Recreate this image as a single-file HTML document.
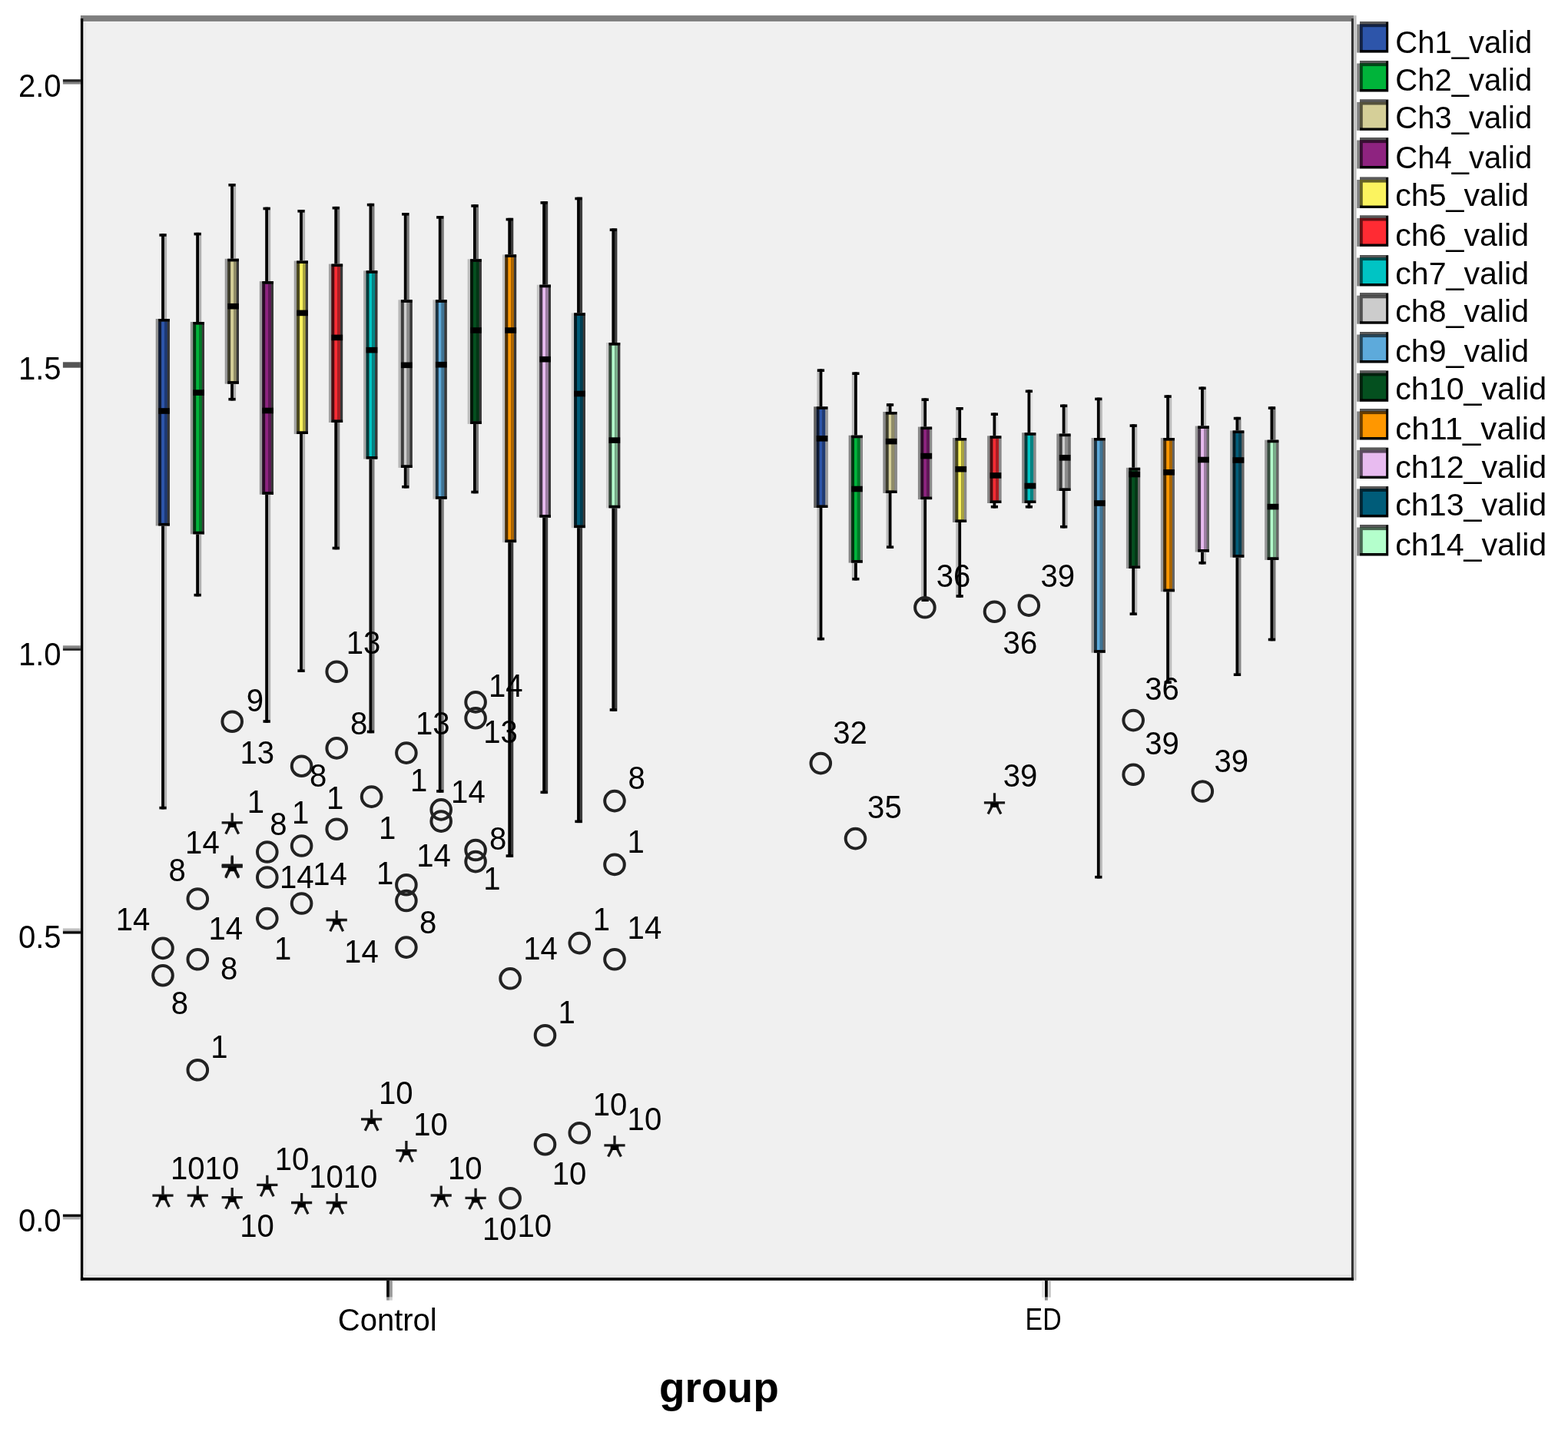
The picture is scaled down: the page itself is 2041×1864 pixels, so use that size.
<!DOCTYPE html>
<html><head><meta charset="utf-8"><title>group boxplot</title>
<style>
html,body{margin:0;padding:0;background:#fff;}
svg{display:block;}
.t{font-family:"Liberation Sans", Arial, sans-serif;font-size:40px;fill:#000;}
.n{font-family:"Liberation Sans", Arial, sans-serif;font-size:42px;fill:#000;}
.g{font-family:"Liberation Sans", Arial, sans-serif;font-size:55px;font-weight:bold;fill:#000;}
</style></head><body>
<svg width="2041" height="1864" viewBox="0 0 2041 1864">
<rect x="0" y="0" width="2041" height="1864" fill="#ffffff"/>
<rect x="108.3" y="27.9" width="1650.6000000000001" height="1635.1" fill="#f0f0f0"/>
<rect x="110.3" y="27.9" width="1.6" height="1635.1" fill="#e6e6e6"/>
<rect x="108.3" y="27.9" width="1650.6000000000001" height="1.1" fill="#f5f5f5"/>
<rect x="104.9" y="20.1" width="1657.1" height="7.8" fill="#7e7e7e"/>
<rect x="104.9" y="24" width="3.4" height="1642.8" fill="#000"/>
<rect x="1758.9" y="24" width="3.1" height="1642.8" fill="#333"/>
<rect x="1762.2" y="20.1" width="3.4" height="1646.5" fill="#c0c0c0"/>
<rect x="108.3" y="1659.4" width="1650.6000000000001" height="2.4" fill="#e2e2e2"/>
<rect x="104.9" y="1663" width="1657.1" height="3.8" fill="#000"/>
<rect x="81.9" y="103.3" width="23" height="3.5" fill="#222"/>
<rect x="81.9" y="106.8" width="23" height="2.8" fill="#808080"/>
<rect x="81.9" y="471.3" width="23" height="7.4" fill="#555"/>
<rect x="81.9" y="840.3" width="23" height="2.9" fill="#888"/>
<rect x="81.9" y="843.2" width="23" height="1.0" fill="#555"/>
<rect x="81.9" y="844.2" width="23" height="2.6" fill="#1a1a1a"/>
<rect x="81.9" y="1208.4" width="23" height="3.2" fill="#c0c0c0"/>
<rect x="81.9" y="1211.6" width="23" height="0.6" fill="#555"/>
<rect x="81.9" y="1212.2" width="23" height="3.3" fill="#000"/>
<rect x="81.9" y="1580.6" width="23" height="3.3" fill="#000"/>
<rect x="81.9" y="1583.9" width="23" height="0.6" fill="#555"/>
<rect x="81.9" y="1584.5" width="23" height="2.9" fill="#b0b0b0"/>
<text x="23.9" y="125.5" class="n" textLength="55.76" lengthAdjust="spacingAndGlyphs">2.0</text>
<text x="23.9" y="493.8" class="n" textLength="55.76" lengthAdjust="spacingAndGlyphs">1.5</text>
<text x="23.9" y="865.8" class="n" textLength="55.76" lengthAdjust="spacingAndGlyphs">1.0</text>
<text x="23.9" y="1234.2" class="n" textLength="55.76" lengthAdjust="spacingAndGlyphs">0.5</text>
<text x="23.9" y="1602.6" class="n" textLength="55.76" lengthAdjust="spacingAndGlyphs">0.0</text>
<rect x="503.1" y="1666.8" width="3.8" height="21.9" fill="#0a0a0a"/>
<rect x="503.1" y="1688.7" width="3.8" height="3.9" fill="#959595"/>
<rect x="506.9" y="1666.8" width="3.9" height="21.9" fill="#9a9a9a"/>
<rect x="506.9" y="1688.7" width="3.9" height="3.9" fill="#d0d0d0"/>
<rect x="1356.2" y="1666.8" width="2.7" height="21.9" fill="#e0e0e0"/>
<rect x="1360.0" y="1666.8" width="3.8" height="21.9" fill="#000"/>
<rect x="1360.0" y="1688.7" width="3.8" height="3.9" fill="#8a8a8a"/>
<rect x="1364.6" y="1666.8" width="3.3" height="21.9" fill="#c8c8c8"/>
<text x="439.8" y="1731.8" class="t">Control</text>
<text x="1334.6" y="1730.7" class="t" textLength="47" lengthAdjust="spacingAndGlyphs">ED</text>
<text x="858.0" y="1824.5" class="g">group</text>
<rect x="213.8" y="304.2" width="3.3" height="110.8" fill="#b0b0b0"/>
<rect x="213.8" y="684.4" width="3.3" height="369.0" fill="#b0b0b0"/>
<rect x="210.1" y="304.2" width="3.8" height="110.8" fill="#000"/>
<rect x="210.1" y="684.4" width="3.8" height="369.0" fill="#000"/>
<rect x="207.4" y="304.2" width="9.2" height="3.6" fill="#000"/>
<rect x="207.4" y="1049.8" width="9.2" height="3.6" fill="#000"/>
<rect x="202.7" y="415.0" width="3.5" height="269.4" fill="#909090"/>
<rect x="206.2" y="415.0" width="14.7" height="269.4" fill="#383838"/>
<rect x="217.5" y="415.0" width="3.4" height="269.4" fill="#383838"/>
<rect x="206.2" y="418.5" width="3.9" height="262.4" fill="#0d1933"/>
<rect x="210.1" y="418.5" width="3.9" height="262.4" fill="#2d55aa"/>
<rect x="214.0" y="418.5" width="3.7" height="262.4" fill="#1e3973"/>
<rect x="206.2" y="415.0" width="14.7" height="3.5" fill="#000"/>
<rect x="206.2" y="680.9" width="14.7" height="3.5" fill="#000"/>
<rect x="206.2" y="531.2" width="14.7" height="7.6" fill="#000"/>
<rect x="258.9" y="302.8" width="3.3" height="116.2" fill="#b0b0b0"/>
<rect x="258.9" y="695.3" width="3.3" height="81.1" fill="#b0b0b0"/>
<rect x="255.2" y="302.8" width="3.8" height="116.2" fill="#000"/>
<rect x="255.2" y="695.3" width="3.8" height="81.1" fill="#000"/>
<rect x="252.5" y="302.8" width="9.2" height="3.6" fill="#000"/>
<rect x="252.5" y="772.8" width="9.2" height="3.6" fill="#000"/>
<rect x="247.8" y="419.0" width="3.5" height="276.3" fill="#949494"/>
<rect x="251.3" y="419.0" width="14.7" height="276.3" fill="#383838"/>
<rect x="262.6" y="419.0" width="3.4" height="276.3" fill="#383838"/>
<rect x="251.3" y="422.5" width="3.9" height="269.3" fill="#003611"/>
<rect x="255.2" y="422.5" width="3.9" height="269.3" fill="#00b43a"/>
<rect x="259.1" y="422.5" width="3.7" height="269.3" fill="#007a27"/>
<rect x="251.3" y="419.0" width="14.7" height="3.5" fill="#000"/>
<rect x="251.3" y="691.8" width="14.7" height="3.5" fill="#000"/>
<rect x="251.3" y="507.3" width="14.7" height="7.6" fill="#000"/>
<rect x="303.8" y="239.0" width="3.3" height="97.8" fill="#b0b0b0"/>
<rect x="303.8" y="499.7" width="3.3" height="21.8" fill="#b0b0b0"/>
<rect x="300.1" y="239.0" width="3.8" height="97.8" fill="#000"/>
<rect x="300.1" y="499.7" width="3.8" height="21.8" fill="#000"/>
<rect x="297.4" y="239.0" width="9.2" height="3.6" fill="#000"/>
<rect x="297.4" y="517.9" width="9.2" height="3.6" fill="#000"/>
<rect x="292.7" y="336.8" width="3.5" height="162.9" fill="#989898"/>
<rect x="296.2" y="336.8" width="14.7" height="162.9" fill="#383838"/>
<rect x="307.5" y="336.8" width="3.4" height="162.9" fill="#383838"/>
<rect x="296.2" y="340.3" width="3.9" height="155.9" fill="#3f3e2d"/>
<rect x="300.1" y="340.3" width="3.9" height="155.9" fill="#d5cf98"/>
<rect x="304.0" y="340.3" width="3.7" height="155.9" fill="#908c67"/>
<rect x="296.2" y="336.8" width="14.7" height="3.5" fill="#000"/>
<rect x="296.2" y="496.2" width="14.7" height="3.5" fill="#000"/>
<rect x="296.2" y="394.9" width="14.7" height="7.6" fill="#000"/>
<rect x="348.9" y="269.7" width="3.3" height="96.4" fill="#b0b0b0"/>
<rect x="348.9" y="643.7" width="3.3" height="297.1" fill="#b0b0b0"/>
<rect x="345.2" y="269.7" width="3.8" height="96.4" fill="#000"/>
<rect x="345.2" y="643.7" width="3.8" height="297.1" fill="#000"/>
<rect x="342.5" y="269.7" width="9.2" height="3.6" fill="#000"/>
<rect x="342.5" y="937.2" width="9.2" height="3.6" fill="#000"/>
<rect x="337.8" y="366.1" width="3.5" height="277.6" fill="#9c9c9c"/>
<rect x="341.3" y="366.1" width="14.7" height="277.6" fill="#383838"/>
<rect x="352.6" y="366.1" width="3.4" height="277.6" fill="#383838"/>
<rect x="341.3" y="369.6" width="3.9" height="270.6" fill="#2a0a26"/>
<rect x="345.2" y="369.6" width="3.9" height="270.6" fill="#8e2380"/>
<rect x="349.1" y="369.6" width="3.7" height="270.6" fill="#601757"/>
<rect x="341.3" y="366.1" width="14.7" height="3.5" fill="#000"/>
<rect x="341.3" y="640.2" width="14.7" height="3.5" fill="#000"/>
<rect x="341.3" y="530.7" width="14.7" height="7.6" fill="#000"/>
<rect x="393.8" y="273.0" width="3.3" height="66.5" fill="#b0b0b0"/>
<rect x="393.8" y="565.0" width="3.3" height="310.0" fill="#b0b0b0"/>
<rect x="390.1" y="273.0" width="3.8" height="66.5" fill="#000"/>
<rect x="390.1" y="565.0" width="3.8" height="310.0" fill="#000"/>
<rect x="387.4" y="273.0" width="9.2" height="3.6" fill="#000"/>
<rect x="387.4" y="871.4" width="9.2" height="3.6" fill="#000"/>
<rect x="382.7" y="339.5" width="3.5" height="225.5" fill="#a0a0a0"/>
<rect x="386.2" y="339.5" width="14.7" height="225.5" fill="#383838"/>
<rect x="397.5" y="339.5" width="3.4" height="225.5" fill="#383838"/>
<rect x="386.2" y="343.0" width="3.9" height="218.5" fill="#4b481c"/>
<rect x="390.1" y="343.0" width="3.9" height="218.5" fill="#fbf35f"/>
<rect x="394.0" y="343.0" width="3.7" height="218.5" fill="#aaa540"/>
<rect x="386.2" y="339.5" width="14.7" height="3.5" fill="#000"/>
<rect x="386.2" y="561.5" width="14.7" height="3.5" fill="#000"/>
<rect x="386.2" y="403.6" width="14.7" height="7.6" fill="#000"/>
<rect x="439.0" y="268.9" width="3.3" height="74.7" fill="#7a7a7a"/>
<rect x="439.0" y="550.0" width="3.3" height="165.3" fill="#7a7a7a"/>
<rect x="435.3" y="268.9" width="3.8" height="74.7" fill="#000"/>
<rect x="435.3" y="550.0" width="3.8" height="165.3" fill="#000"/>
<rect x="432.6" y="268.9" width="9.2" height="3.6" fill="#000"/>
<rect x="432.6" y="711.7" width="9.2" height="3.6" fill="#000"/>
<rect x="427.9" y="343.6" width="3.5" height="206.4" fill="#a4a4a4"/>
<rect x="431.4" y="343.6" width="14.7" height="206.4" fill="#383838"/>
<rect x="442.7" y="343.6" width="3.4" height="206.4" fill="#383838"/>
<rect x="431.4" y="347.1" width="3.9" height="199.4" fill="#4c0c0f"/>
<rect x="435.3" y="347.1" width="3.9" height="199.4" fill="#ff2b33"/>
<rect x="439.2" y="347.1" width="3.7" height="199.4" fill="#ad1d22"/>
<rect x="431.4" y="343.6" width="14.7" height="3.5" fill="#000"/>
<rect x="431.4" y="546.5" width="14.7" height="3.5" fill="#000"/>
<rect x="431.4" y="435.6" width="14.7" height="7.6" fill="#000"/>
<rect x="484.2" y="264.8" width="3.3" height="87.5" fill="#7a7a7a"/>
<rect x="484.2" y="597.5" width="3.3" height="356.8" fill="#7a7a7a"/>
<rect x="480.5" y="264.8" width="3.8" height="87.5" fill="#000"/>
<rect x="480.5" y="597.5" width="3.8" height="356.8" fill="#000"/>
<rect x="477.8" y="264.8" width="9.2" height="3.6" fill="#000"/>
<rect x="477.8" y="950.7" width="9.2" height="3.6" fill="#000"/>
<rect x="473.1" y="352.3" width="3.5" height="245.2" fill="#a8a8a8"/>
<rect x="476.6" y="352.3" width="14.7" height="245.2" fill="#383838"/>
<rect x="487.9" y="352.3" width="3.4" height="245.2" fill="#383838"/>
<rect x="476.6" y="355.8" width="3.9" height="238.2" fill="#003a3a"/>
<rect x="480.5" y="355.8" width="3.9" height="238.2" fill="#00c4c4"/>
<rect x="484.4" y="355.8" width="3.7" height="238.2" fill="#008585"/>
<rect x="476.6" y="352.3" width="14.7" height="3.5" fill="#000"/>
<rect x="476.6" y="594.0" width="14.7" height="3.5" fill="#000"/>
<rect x="476.6" y="451.9" width="14.7" height="7.6" fill="#000"/>
<rect x="529.5" y="277.0" width="3.3" height="113.3" fill="#7a7a7a"/>
<rect x="529.5" y="608.9" width="3.3" height="26.6" fill="#7a7a7a"/>
<rect x="525.8" y="277.0" width="3.8" height="113.3" fill="#000"/>
<rect x="525.8" y="608.9" width="3.8" height="26.6" fill="#000"/>
<rect x="523.1" y="277.0" width="9.2" height="3.6" fill="#000"/>
<rect x="523.1" y="631.9" width="9.2" height="3.6" fill="#000"/>
<rect x="518.4" y="390.3" width="3.5" height="218.6" fill="#b8b8b8"/>
<rect x="521.9" y="390.3" width="14.7" height="218.6" fill="#383838"/>
<rect x="533.2" y="390.3" width="3.4" height="218.6" fill="#383838"/>
<rect x="521.9" y="393.8" width="3.9" height="211.6" fill="#3d3d3d"/>
<rect x="525.8" y="393.8" width="3.9" height="211.6" fill="#cccccc"/>
<rect x="529.7" y="393.8" width="3.7" height="211.6" fill="#8a8a8a"/>
<rect x="521.9" y="390.3" width="14.7" height="3.5" fill="#000"/>
<rect x="521.9" y="605.4" width="14.7" height="3.5" fill="#000"/>
<rect x="521.9" y="471.5" width="14.7" height="7.6" fill="#000"/>
<rect x="574.5" y="281.1" width="3.3" height="109.2" fill="#7a7a7a"/>
<rect x="574.5" y="649.6" width="3.3" height="382.1" fill="#7a7a7a"/>
<rect x="570.8" y="281.1" width="3.8" height="109.2" fill="#000"/>
<rect x="570.8" y="649.6" width="3.8" height="382.1" fill="#000"/>
<rect x="568.1" y="281.1" width="9.2" height="3.6" fill="#000"/>
<rect x="568.1" y="1028.1" width="9.2" height="3.6" fill="#000"/>
<rect x="563.4" y="390.3" width="3.5" height="259.3" fill="#bbbbbb"/>
<rect x="566.9" y="390.3" width="14.7" height="259.3" fill="#383838"/>
<rect x="578.2" y="390.3" width="3.4" height="259.3" fill="#383838"/>
<rect x="566.9" y="393.8" width="3.9" height="252.3" fill="#1b3341"/>
<rect x="570.8" y="393.8" width="3.9" height="252.3" fill="#5daadb"/>
<rect x="574.7" y="393.8" width="3.7" height="252.3" fill="#3f7394"/>
<rect x="566.9" y="390.3" width="14.7" height="3.5" fill="#000"/>
<rect x="566.9" y="646.1" width="14.7" height="3.5" fill="#000"/>
<rect x="566.9" y="470.9" width="14.7" height="7.6" fill="#000"/>
<rect x="619.7" y="266.2" width="3.3" height="71.1" fill="#7a7a7a"/>
<rect x="619.7" y="551.9" width="3.3" height="90.4" fill="#7a7a7a"/>
<rect x="616.0" y="266.2" width="3.8" height="71.1" fill="#000"/>
<rect x="616.0" y="551.9" width="3.8" height="90.4" fill="#000"/>
<rect x="613.3" y="266.2" width="9.2" height="3.6" fill="#000"/>
<rect x="613.3" y="638.7" width="9.2" height="3.6" fill="#000"/>
<rect x="608.6" y="337.3" width="3.5" height="214.6" fill="#bebebe"/>
<rect x="612.1" y="337.3" width="14.7" height="214.6" fill="#383838"/>
<rect x="623.4" y="337.3" width="3.4" height="214.6" fill="#383838"/>
<rect x="612.1" y="340.8" width="3.9" height="207.6" fill="#011809"/>
<rect x="616.0" y="340.8" width="3.9" height="207.6" fill="#04501f"/>
<rect x="619.9" y="340.8" width="3.7" height="207.6" fill="#023615"/>
<rect x="612.1" y="337.3" width="14.7" height="3.5" fill="#000"/>
<rect x="612.1" y="548.4" width="14.7" height="3.5" fill="#000"/>
<rect x="612.1" y="426.2" width="14.7" height="7.6" fill="#000"/>
<rect x="665.0" y="283.8" width="3.3" height="47.6" fill="#3c3c3c"/>
<rect x="665.0" y="706.1" width="3.3" height="409.8" fill="#3c3c3c"/>
<rect x="661.3" y="283.8" width="3.8" height="47.6" fill="#000"/>
<rect x="661.3" y="706.1" width="3.8" height="409.8" fill="#000"/>
<rect x="658.6" y="283.8" width="9.2" height="3.6" fill="#000"/>
<rect x="658.6" y="1112.3" width="9.2" height="3.6" fill="#000"/>
<rect x="653.9" y="331.4" width="3.5" height="374.7" fill="#c2c2c2"/>
<rect x="657.4" y="331.4" width="14.7" height="374.7" fill="#383838"/>
<rect x="668.7" y="331.4" width="3.4" height="374.7" fill="#383838"/>
<rect x="657.4" y="334.9" width="3.9" height="367.7" fill="#4c2d00"/>
<rect x="661.3" y="334.9" width="3.9" height="367.7" fill="#ff9700"/>
<rect x="665.2" y="334.9" width="3.7" height="367.7" fill="#ad6600"/>
<rect x="657.4" y="331.4" width="14.7" height="3.5" fill="#000"/>
<rect x="657.4" y="702.6" width="14.7" height="3.5" fill="#000"/>
<rect x="657.4" y="426.2" width="14.7" height="7.6" fill="#000"/>
<rect x="709.9" y="262.1" width="3.3" height="108.6" fill="#3c3c3c"/>
<rect x="709.9" y="673.6" width="3.3" height="359.5" fill="#3c3c3c"/>
<rect x="706.2" y="262.1" width="3.8" height="108.6" fill="#000"/>
<rect x="706.2" y="673.6" width="3.8" height="359.5" fill="#000"/>
<rect x="703.5" y="262.1" width="9.2" height="3.6" fill="#000"/>
<rect x="703.5" y="1029.5" width="9.2" height="3.6" fill="#000"/>
<rect x="698.8" y="370.7" width="3.5" height="302.9" fill="#c5c5c5"/>
<rect x="702.3" y="370.7" width="14.7" height="302.9" fill="#383838"/>
<rect x="713.6" y="370.7" width="3.4" height="302.9" fill="#383838"/>
<rect x="702.3" y="374.2" width="3.9" height="295.9" fill="#453848"/>
<rect x="706.2" y="374.2" width="3.9" height="295.9" fill="#e8bbf0"/>
<rect x="710.1" y="374.2" width="3.7" height="295.9" fill="#9d7fa3"/>
<rect x="702.3" y="370.7" width="14.7" height="3.5" fill="#000"/>
<rect x="702.3" y="670.1" width="14.7" height="3.5" fill="#000"/>
<rect x="702.3" y="463.9" width="14.7" height="7.6" fill="#000"/>
<rect x="754.8" y="256.7" width="3.3" height="150.7" fill="#3c3c3c"/>
<rect x="754.8" y="687.1" width="3.3" height="384.0" fill="#3c3c3c"/>
<rect x="751.1" y="256.7" width="3.8" height="150.7" fill="#000"/>
<rect x="751.1" y="687.1" width="3.8" height="384.0" fill="#000"/>
<rect x="748.4" y="256.7" width="9.2" height="3.6" fill="#000"/>
<rect x="748.4" y="1067.5" width="9.2" height="3.6" fill="#000"/>
<rect x="743.7" y="407.4" width="3.5" height="279.7" fill="#c8c8c8"/>
<rect x="747.2" y="407.4" width="14.7" height="279.7" fill="#383838"/>
<rect x="758.5" y="407.4" width="3.4" height="279.7" fill="#383838"/>
<rect x="747.2" y="410.9" width="3.9" height="272.7" fill="#001b24"/>
<rect x="751.1" y="410.9" width="3.9" height="272.7" fill="#005c79"/>
<rect x="755.0" y="410.9" width="3.7" height="272.7" fill="#003e52"/>
<rect x="747.2" y="407.4" width="14.7" height="3.5" fill="#000"/>
<rect x="747.2" y="683.6" width="14.7" height="3.5" fill="#000"/>
<rect x="747.2" y="508.7" width="14.7" height="7.6" fill="#000"/>
<rect x="800.1" y="297.4" width="3.3" height="148.6" fill="#3c3c3c"/>
<rect x="800.1" y="661.3" width="3.3" height="264.5" fill="#3c3c3c"/>
<rect x="796.4" y="297.4" width="3.8" height="148.6" fill="#000"/>
<rect x="796.4" y="661.3" width="3.8" height="264.5" fill="#000"/>
<rect x="793.7" y="297.4" width="9.2" height="3.6" fill="#000"/>
<rect x="793.7" y="922.2" width="9.2" height="3.6" fill="#000"/>
<rect x="789.0" y="446.0" width="3.5" height="215.3" fill="#cccccc"/>
<rect x="792.5" y="446.0" width="14.7" height="215.3" fill="#383838"/>
<rect x="803.8" y="446.0" width="3.4" height="215.3" fill="#383838"/>
<rect x="792.5" y="449.5" width="3.9" height="208.3" fill="#364c3d"/>
<rect x="796.4" y="449.5" width="3.9" height="208.3" fill="#b4ffcc"/>
<rect x="800.3" y="449.5" width="3.7" height="208.3" fill="#7aad8a"/>
<rect x="792.5" y="446.0" width="14.7" height="3.5" fill="#000"/>
<rect x="792.5" y="657.8" width="14.7" height="3.5" fill="#000"/>
<rect x="792.5" y="569.3" width="14.7" height="7.6" fill="#000"/>
<rect x="1063.4" y="480.4" width="3.3" height="48.9" fill="#bbbbbb"/>
<rect x="1063.4" y="661.0" width="3.3" height="172.4" fill="#bbbbbb"/>
<rect x="1066.6" y="480.4" width="3.8" height="48.9" fill="#000"/>
<rect x="1066.6" y="661.0" width="3.8" height="172.4" fill="#000"/>
<rect x="1063.9" y="480.4" width="9.2" height="3.6" fill="#000"/>
<rect x="1063.9" y="829.8" width="9.2" height="3.6" fill="#000"/>
<rect x="1059.2" y="529.3" width="3.5" height="131.7" fill="#606060"/>
<rect x="1062.7" y="529.3" width="14.7" height="131.7" fill="#383838"/>
<rect x="1074.0" y="529.3" width="3.4" height="131.7" fill="#999999"/>
<rect x="1062.7" y="532.8" width="3.9" height="124.7" fill="#0d1933"/>
<rect x="1066.6" y="532.8" width="3.9" height="124.7" fill="#2d55aa"/>
<rect x="1070.5" y="532.8" width="3.7" height="124.7" fill="#1e3973"/>
<rect x="1062.7" y="529.3" width="14.7" height="3.5" fill="#000"/>
<rect x="1062.7" y="657.5" width="14.7" height="3.5" fill="#000"/>
<rect x="1062.7" y="567.0" width="14.7" height="7.6" fill="#000"/>
<rect x="1108.8" y="484.4" width="3.3" height="82.3" fill="#bbbbbb"/>
<rect x="1108.8" y="732.6" width="3.3" height="22.9" fill="#bbbbbb"/>
<rect x="1112.0" y="484.4" width="3.8" height="82.3" fill="#000"/>
<rect x="1112.0" y="732.6" width="3.8" height="22.9" fill="#000"/>
<rect x="1109.3" y="484.4" width="9.2" height="3.6" fill="#000"/>
<rect x="1109.3" y="751.9" width="9.2" height="3.6" fill="#000"/>
<rect x="1104.6" y="566.7" width="3.5" height="165.9" fill="#888888"/>
<rect x="1108.1" y="566.7" width="14.7" height="165.9" fill="#383838"/>
<rect x="1119.4" y="566.7" width="3.4" height="165.9" fill="#8a8a8a"/>
<rect x="1108.1" y="570.2" width="3.9" height="158.9" fill="#003611"/>
<rect x="1112.0" y="570.2" width="3.9" height="158.9" fill="#00b43a"/>
<rect x="1115.9" y="570.2" width="3.7" height="158.9" fill="#007a27"/>
<rect x="1108.1" y="566.7" width="14.7" height="3.5" fill="#000"/>
<rect x="1108.1" y="729.1" width="14.7" height="3.5" fill="#000"/>
<rect x="1108.1" y="632.7" width="14.7" height="7.6" fill="#000"/>
<rect x="1153.5" y="525.2" width="3.3" height="10.8" fill="#bbbbbb"/>
<rect x="1153.5" y="642.0" width="3.3" height="72.0" fill="#bbbbbb"/>
<rect x="1156.7" y="525.2" width="3.8" height="10.8" fill="#000"/>
<rect x="1156.7" y="642.0" width="3.8" height="72.0" fill="#000"/>
<rect x="1154.0" y="525.2" width="9.2" height="3.6" fill="#000"/>
<rect x="1154.0" y="710.4" width="9.2" height="3.6" fill="#000"/>
<rect x="1149.3" y="536.0" width="3.5" height="106.0" fill="#888888"/>
<rect x="1152.8" y="536.0" width="14.7" height="106.0" fill="#383838"/>
<rect x="1164.1" y="536.0" width="3.4" height="106.0" fill="#8a8a8a"/>
<rect x="1152.8" y="539.5" width="3.9" height="99.0" fill="#3f3e2d"/>
<rect x="1156.7" y="539.5" width="3.9" height="99.0" fill="#d5cf98"/>
<rect x="1160.6" y="539.5" width="3.7" height="99.0" fill="#908c67"/>
<rect x="1152.8" y="536.0" width="14.7" height="3.5" fill="#000"/>
<rect x="1152.8" y="638.5" width="14.7" height="3.5" fill="#000"/>
<rect x="1152.8" y="570.8" width="14.7" height="7.6" fill="#000"/>
<rect x="1199.1" y="518.4" width="3.3" height="37.2" fill="#bbbbbb"/>
<rect x="1199.1" y="650.1" width="3.3" height="132.9" fill="#bbbbbb"/>
<rect x="1202.3" y="518.4" width="3.8" height="37.2" fill="#000"/>
<rect x="1202.3" y="650.1" width="3.8" height="132.9" fill="#000"/>
<rect x="1199.6" y="518.4" width="9.2" height="3.6" fill="#000"/>
<rect x="1199.6" y="779.4" width="9.2" height="3.6" fill="#000"/>
<rect x="1194.9" y="555.6" width="3.5" height="94.5" fill="#888888"/>
<rect x="1198.4" y="555.6" width="14.7" height="94.5" fill="#383838"/>
<rect x="1209.7" y="555.6" width="3.4" height="94.5" fill="#8a8a8a"/>
<rect x="1198.4" y="559.1" width="3.9" height="87.5" fill="#2a0a26"/>
<rect x="1202.3" y="559.1" width="3.9" height="87.5" fill="#8e2380"/>
<rect x="1206.2" y="559.1" width="3.7" height="87.5" fill="#601757"/>
<rect x="1198.4" y="555.6" width="14.7" height="3.5" fill="#000"/>
<rect x="1198.4" y="646.6" width="14.7" height="3.5" fill="#000"/>
<rect x="1198.4" y="589.8" width="14.7" height="7.6" fill="#000"/>
<rect x="1244.1" y="530.0" width="3.3" height="40.0" fill="#bbbbbb"/>
<rect x="1244.1" y="680.0" width="3.3" height="97.8" fill="#bbbbbb"/>
<rect x="1247.3" y="530.0" width="3.8" height="40.0" fill="#000"/>
<rect x="1247.3" y="680.0" width="3.8" height="97.8" fill="#000"/>
<rect x="1244.6" y="530.0" width="9.2" height="3.6" fill="#000"/>
<rect x="1244.6" y="774.2" width="9.2" height="3.6" fill="#000"/>
<rect x="1239.9" y="570.0" width="3.5" height="110.0" fill="#888888"/>
<rect x="1243.4" y="570.0" width="14.7" height="110.0" fill="#383838"/>
<rect x="1254.7" y="570.0" width="3.4" height="110.0" fill="#8a8a8a"/>
<rect x="1243.4" y="573.5" width="3.9" height="103.0" fill="#4b481c"/>
<rect x="1247.3" y="573.5" width="3.9" height="103.0" fill="#fbf35f"/>
<rect x="1251.2" y="573.5" width="3.7" height="103.0" fill="#aaa540"/>
<rect x="1243.4" y="570.0" width="14.7" height="3.5" fill="#000"/>
<rect x="1243.4" y="676.5" width="14.7" height="3.5" fill="#000"/>
<rect x="1243.4" y="606.9" width="14.7" height="7.6" fill="#000"/>
<rect x="1296.2" y="537.4" width="3.3" height="29.9" fill="#e4e4e4"/>
<rect x="1296.2" y="655.0" width="3.3" height="6.5" fill="#e4e4e4"/>
<rect x="1292.5" y="537.4" width="3.8" height="29.9" fill="#000"/>
<rect x="1292.5" y="655.0" width="3.8" height="6.5" fill="#000"/>
<rect x="1289.8" y="537.4" width="9.2" height="3.6" fill="#000"/>
<rect x="1289.8" y="657.9" width="9.2" height="3.6" fill="#000"/>
<rect x="1285.1" y="567.3" width="3.5" height="87.7" fill="#888888"/>
<rect x="1288.6" y="567.3" width="14.7" height="87.7" fill="#383838"/>
<rect x="1299.9" y="567.3" width="3.4" height="87.7" fill="#8a8a8a"/>
<rect x="1288.6" y="570.8" width="3.9" height="80.7" fill="#4c0c0f"/>
<rect x="1292.5" y="570.8" width="3.9" height="80.7" fill="#ff2b33"/>
<rect x="1296.4" y="570.8" width="3.7" height="80.7" fill="#ad1d22"/>
<rect x="1288.6" y="567.3" width="14.7" height="3.5" fill="#000"/>
<rect x="1288.6" y="651.5" width="14.7" height="3.5" fill="#000"/>
<rect x="1288.6" y="615.1" width="14.7" height="7.6" fill="#000"/>
<rect x="1341.2" y="507.5" width="3.3" height="55.7" fill="#e4e4e4"/>
<rect x="1341.2" y="655.0" width="3.3" height="6.5" fill="#e4e4e4"/>
<rect x="1337.5" y="507.5" width="3.8" height="55.7" fill="#000"/>
<rect x="1337.5" y="655.0" width="3.8" height="6.5" fill="#000"/>
<rect x="1334.8" y="507.5" width="9.2" height="3.6" fill="#000"/>
<rect x="1334.8" y="657.9" width="9.2" height="3.6" fill="#000"/>
<rect x="1330.1" y="563.2" width="3.5" height="91.8" fill="#888888"/>
<rect x="1333.6" y="563.2" width="14.7" height="91.8" fill="#383838"/>
<rect x="1344.9" y="563.2" width="3.4" height="91.8" fill="#8a8a8a"/>
<rect x="1333.6" y="566.7" width="3.9" height="84.8" fill="#003a3a"/>
<rect x="1337.5" y="566.7" width="3.9" height="84.8" fill="#00c4c4"/>
<rect x="1341.4" y="566.7" width="3.7" height="84.8" fill="#008585"/>
<rect x="1333.6" y="563.2" width="14.7" height="3.5" fill="#000"/>
<rect x="1333.6" y="651.5" width="14.7" height="3.5" fill="#000"/>
<rect x="1333.6" y="628.7" width="14.7" height="7.6" fill="#000"/>
<rect x="1386.4" y="526.5" width="3.3" height="38.1" fill="#bbbbbb"/>
<rect x="1386.4" y="639.0" width="3.3" height="48.5" fill="#bbbbbb"/>
<rect x="1382.7" y="526.5" width="3.8" height="38.1" fill="#000"/>
<rect x="1382.7" y="639.0" width="3.8" height="48.5" fill="#000"/>
<rect x="1380.0" y="526.5" width="9.2" height="3.6" fill="#000"/>
<rect x="1380.0" y="683.9" width="9.2" height="3.6" fill="#000"/>
<rect x="1375.3" y="564.6" width="3.5" height="74.4" fill="#888888"/>
<rect x="1378.8" y="564.6" width="14.7" height="74.4" fill="#383838"/>
<rect x="1390.1" y="564.6" width="3.4" height="74.4" fill="#666666"/>
<rect x="1378.8" y="568.1" width="3.9" height="67.4" fill="#3d3d3d"/>
<rect x="1382.7" y="568.1" width="3.9" height="67.4" fill="#cccccc"/>
<rect x="1386.6" y="568.1" width="3.7" height="67.4" fill="#8a8a8a"/>
<rect x="1378.8" y="564.6" width="14.7" height="3.5" fill="#000"/>
<rect x="1378.8" y="635.5" width="14.7" height="3.5" fill="#000"/>
<rect x="1378.8" y="592.0" width="14.7" height="7.6" fill="#000"/>
<rect x="1431.6" y="517.6" width="3.3" height="52.4" fill="#bbbbbb"/>
<rect x="1431.6" y="849.7" width="3.3" height="293.8" fill="#bbbbbb"/>
<rect x="1427.9" y="517.6" width="3.8" height="52.4" fill="#000"/>
<rect x="1427.9" y="849.7" width="3.8" height="293.8" fill="#000"/>
<rect x="1425.2" y="517.6" width="9.2" height="3.6" fill="#000"/>
<rect x="1425.2" y="1139.9" width="9.2" height="3.6" fill="#000"/>
<rect x="1420.5" y="570.0" width="3.5" height="279.7" fill="#999999"/>
<rect x="1424.0" y="570.0" width="14.7" height="279.7" fill="#383838"/>
<rect x="1435.3" y="570.0" width="3.4" height="279.7" fill="#666666"/>
<rect x="1424.0" y="573.5" width="3.9" height="272.7" fill="#1b3341"/>
<rect x="1427.9" y="573.5" width="3.9" height="272.7" fill="#5daadb"/>
<rect x="1431.8" y="573.5" width="3.7" height="272.7" fill="#3f7394"/>
<rect x="1424.0" y="570.0" width="14.7" height="3.5" fill="#000"/>
<rect x="1424.0" y="846.2" width="14.7" height="3.5" fill="#000"/>
<rect x="1424.0" y="651.2" width="14.7" height="7.6" fill="#000"/>
<rect x="1477.0" y="552.3" width="3.3" height="56.5" fill="#bbbbbb"/>
<rect x="1477.0" y="740.0" width="3.3" height="61.0" fill="#bbbbbb"/>
<rect x="1473.3" y="552.3" width="3.8" height="56.5" fill="#000"/>
<rect x="1473.3" y="740.0" width="3.8" height="61.0" fill="#000"/>
<rect x="1470.6" y="552.3" width="9.2" height="3.6" fill="#000"/>
<rect x="1470.6" y="797.4" width="9.2" height="3.6" fill="#000"/>
<rect x="1465.9" y="608.8" width="3.5" height="131.2" fill="#999999"/>
<rect x="1469.4" y="608.8" width="14.7" height="131.2" fill="#383838"/>
<rect x="1480.7" y="608.8" width="3.4" height="131.2" fill="#666666"/>
<rect x="1469.4" y="612.3" width="3.9" height="124.2" fill="#011809"/>
<rect x="1473.3" y="612.3" width="3.9" height="124.2" fill="#04501f"/>
<rect x="1477.2" y="612.3" width="3.7" height="124.2" fill="#023615"/>
<rect x="1469.4" y="608.8" width="14.7" height="3.5" fill="#000"/>
<rect x="1469.4" y="736.5" width="14.7" height="3.5" fill="#000"/>
<rect x="1469.4" y="613.7" width="14.7" height="7.6" fill="#000"/>
<rect x="1521.9" y="514.3" width="3.3" height="55.7" fill="#bbbbbb"/>
<rect x="1521.9" y="770.2" width="3.3" height="119.8" fill="#bbbbbb"/>
<rect x="1518.2" y="514.3" width="3.8" height="55.7" fill="#000"/>
<rect x="1518.2" y="770.2" width="3.8" height="119.8" fill="#000"/>
<rect x="1515.5" y="514.3" width="9.2" height="3.6" fill="#000"/>
<rect x="1515.5" y="886.4" width="9.2" height="3.6" fill="#000"/>
<rect x="1510.8" y="570.0" width="3.5" height="200.2" fill="#999999"/>
<rect x="1514.3" y="570.0" width="14.7" height="200.2" fill="#383838"/>
<rect x="1525.6" y="570.0" width="3.4" height="200.2" fill="#666666"/>
<rect x="1514.3" y="573.5" width="3.9" height="193.2" fill="#4c2d00"/>
<rect x="1518.2" y="573.5" width="3.9" height="193.2" fill="#ff9700"/>
<rect x="1522.1" y="573.5" width="3.7" height="193.2" fill="#ad6600"/>
<rect x="1514.3" y="570.0" width="14.7" height="3.5" fill="#000"/>
<rect x="1514.3" y="766.7" width="14.7" height="3.5" fill="#000"/>
<rect x="1514.3" y="611.0" width="14.7" height="7.6" fill="#000"/>
<rect x="1566.8" y="503.5" width="3.3" height="51.0" fill="#bbbbbb"/>
<rect x="1566.8" y="718.5" width="3.3" height="16.0" fill="#bbbbbb"/>
<rect x="1563.1" y="503.5" width="3.8" height="51.0" fill="#000"/>
<rect x="1563.1" y="718.5" width="3.8" height="16.0" fill="#000"/>
<rect x="1560.4" y="503.5" width="9.2" height="3.6" fill="#000"/>
<rect x="1560.4" y="730.9" width="9.2" height="3.6" fill="#000"/>
<rect x="1555.7" y="554.5" width="3.5" height="164.0" fill="#999999"/>
<rect x="1559.2" y="554.5" width="14.7" height="164.0" fill="#383838"/>
<rect x="1570.5" y="554.5" width="3.4" height="164.0" fill="#666666"/>
<rect x="1559.2" y="558.0" width="3.9" height="157.0" fill="#453848"/>
<rect x="1563.1" y="558.0" width="3.9" height="157.0" fill="#e8bbf0"/>
<rect x="1567.0" y="558.0" width="3.7" height="157.0" fill="#9d7fa3"/>
<rect x="1559.2" y="554.5" width="14.7" height="3.5" fill="#000"/>
<rect x="1559.2" y="715.0" width="14.7" height="3.5" fill="#000"/>
<rect x="1559.2" y="594.7" width="14.7" height="7.6" fill="#000"/>
<rect x="1612.2" y="542.8" width="3.3" height="17.7" fill="#888888"/>
<rect x="1612.2" y="725.6" width="3.3" height="154.4" fill="#888888"/>
<rect x="1608.5" y="542.8" width="3.8" height="17.7" fill="#000"/>
<rect x="1608.5" y="725.6" width="3.8" height="154.4" fill="#000"/>
<rect x="1605.8" y="542.8" width="9.2" height="3.6" fill="#000"/>
<rect x="1605.8" y="876.4" width="9.2" height="3.6" fill="#000"/>
<rect x="1601.1" y="560.5" width="3.5" height="165.1" fill="#999999"/>
<rect x="1604.6" y="560.5" width="14.7" height="165.1" fill="#383838"/>
<rect x="1615.9" y="560.5" width="3.4" height="165.1" fill="#666666"/>
<rect x="1604.6" y="564.0" width="3.9" height="158.1" fill="#001b24"/>
<rect x="1608.5" y="564.0" width="3.9" height="158.1" fill="#005c79"/>
<rect x="1612.4" y="564.0" width="3.7" height="158.1" fill="#003e52"/>
<rect x="1604.6" y="560.5" width="14.7" height="3.5" fill="#000"/>
<rect x="1604.6" y="722.1" width="14.7" height="3.5" fill="#000"/>
<rect x="1604.6" y="595.2" width="14.7" height="7.6" fill="#000"/>
<rect x="1657.2" y="529.3" width="3.3" height="43.4" fill="#777777"/>
<rect x="1657.2" y="728.9" width="3.3" height="105.4" fill="#777777"/>
<rect x="1653.5" y="529.3" width="3.8" height="43.4" fill="#000"/>
<rect x="1653.5" y="728.9" width="3.8" height="105.4" fill="#000"/>
<rect x="1650.8" y="529.3" width="9.2" height="3.6" fill="#000"/>
<rect x="1650.8" y="830.7" width="9.2" height="3.6" fill="#000"/>
<rect x="1646.1" y="572.7" width="3.5" height="156.2" fill="#999999"/>
<rect x="1649.6" y="572.7" width="14.7" height="156.2" fill="#383838"/>
<rect x="1660.9" y="572.7" width="3.4" height="156.2" fill="#666666"/>
<rect x="1649.6" y="576.2" width="3.9" height="149.2" fill="#364c3d"/>
<rect x="1653.5" y="576.2" width="3.9" height="149.2" fill="#b4ffcc"/>
<rect x="1657.4" y="576.2" width="3.7" height="149.2" fill="#7aad8a"/>
<rect x="1649.6" y="572.7" width="14.7" height="3.5" fill="#000"/>
<rect x="1649.6" y="725.4" width="14.7" height="3.5" fill="#000"/>
<rect x="1649.6" y="655.8" width="14.7" height="7.6" fill="#000"/>
<circle cx="302.2" cy="939.2" r="12.8" fill="none" stroke="#222" stroke-width="4.0"/>
<circle cx="438.2" cy="874.2" r="12.8" fill="none" stroke="#222" stroke-width="4.0"/>
<circle cx="438.2" cy="973.9" r="12.8" fill="none" stroke="#222" stroke-width="4.0"/>
<circle cx="392.6" cy="997.2" r="12.8" fill="none" stroke="#222" stroke-width="4.0"/>
<circle cx="483.6" cy="1037.1" r="12.8" fill="none" stroke="#222" stroke-width="4.0"/>
<circle cx="438.2" cy="1079.2" r="12.8" fill="none" stroke="#222" stroke-width="4.0"/>
<circle cx="347.8" cy="1109.0" r="12.8" fill="none" stroke="#222" stroke-width="4.0"/>
<circle cx="392.6" cy="1101.0" r="12.8" fill="none" stroke="#222" stroke-width="4.0"/>
<circle cx="347.8" cy="1142.0" r="12.8" fill="none" stroke="#222" stroke-width="4.0"/>
<circle cx="257.3" cy="1170.0" r="12.8" fill="none" stroke="#222" stroke-width="4.0"/>
<circle cx="392.6" cy="1176.0" r="12.8" fill="none" stroke="#222" stroke-width="4.0"/>
<circle cx="347.8" cy="1195.6" r="12.8" fill="none" stroke="#222" stroke-width="4.0"/>
<circle cx="212.0" cy="1234.4" r="12.8" fill="none" stroke="#222" stroke-width="4.0"/>
<circle cx="257.3" cy="1248.8" r="12.8" fill="none" stroke="#222" stroke-width="4.0"/>
<circle cx="212.0" cy="1269.7" r="12.8" fill="none" stroke="#222" stroke-width="4.0"/>
<circle cx="257.3" cy="1392.8" r="12.8" fill="none" stroke="#222" stroke-width="4.0"/>
<circle cx="619.1" cy="913.9" r="12.8" fill="none" stroke="#222" stroke-width="4.0"/>
<circle cx="619.1" cy="934.7" r="12.8" fill="none" stroke="#222" stroke-width="4.0"/>
<circle cx="528.9" cy="980.1" r="12.8" fill="none" stroke="#222" stroke-width="4.0"/>
<circle cx="574.2" cy="1053.9" r="12.8" fill="none" stroke="#222" stroke-width="4.0"/>
<circle cx="574.2" cy="1069.1" r="12.8" fill="none" stroke="#222" stroke-width="4.0"/>
<circle cx="619.1" cy="1106.5" r="12.8" fill="none" stroke="#222" stroke-width="4.0"/>
<circle cx="619.1" cy="1121.6" r="12.8" fill="none" stroke="#222" stroke-width="4.0"/>
<circle cx="528.9" cy="1151.7" r="12.8" fill="none" stroke="#222" stroke-width="4.0"/>
<circle cx="528.9" cy="1172.5" r="12.8" fill="none" stroke="#222" stroke-width="4.0"/>
<circle cx="800.0" cy="1042.6" r="12.8" fill="none" stroke="#222" stroke-width="4.0"/>
<circle cx="800.0" cy="1125.4" r="12.8" fill="none" stroke="#222" stroke-width="4.0"/>
<circle cx="528.9" cy="1233.1" r="12.8" fill="none" stroke="#222" stroke-width="4.0"/>
<circle cx="664.1" cy="1273.8" r="12.8" fill="none" stroke="#222" stroke-width="4.0"/>
<circle cx="754.3" cy="1227.6" r="12.8" fill="none" stroke="#222" stroke-width="4.0"/>
<circle cx="800.0" cy="1248.8" r="12.8" fill="none" stroke="#222" stroke-width="4.0"/>
<circle cx="709.5" cy="1347.7" r="12.8" fill="none" stroke="#222" stroke-width="4.0"/>
<circle cx="709.5" cy="1489.7" r="12.8" fill="none" stroke="#222" stroke-width="4.0"/>
<circle cx="754.3" cy="1474.8" r="12.8" fill="none" stroke="#222" stroke-width="4.0"/>
<circle cx="664.1" cy="1559.8" r="12.8" fill="none" stroke="#222" stroke-width="4.0"/>
<path d="M302.2 1058.2L302.2 1075.4 M288.6 1070.8L315.8 1070.8 M299.6 1073.9L293.8 1085.6 M304.8 1073.9L310.6 1085.6" stroke="#1a1a1a" stroke-width="3.3" fill="none"/>
<rect x="296.9" y="1070.8" width="10.6" height="6.2" fill="#000"/>
<path d="M302.2 1113.6L302.2 1130.8 M288.6 1126.2L315.8 1126.2 M299.6 1129.3L293.8 1141.0 M304.8 1129.3L310.6 1141.0" stroke="#1a1a1a" stroke-width="3.3" fill="none"/>
<rect x="296.9" y="1126.2" width="10.6" height="6.2" fill="#000"/>
<path d="M302.2 1115.4L302.2 1132.6 M288.6 1128.0L315.8 1128.0 M299.6 1131.1L293.8 1142.8 M304.8 1131.1L310.6 1142.8" stroke="#1a1a1a" stroke-width="3.3" fill="none"/>
<rect x="296.9" y="1128.0" width="10.6" height="6.2" fill="#000"/>
<path d="M438.2 1184.9L438.2 1202.1 M424.6 1197.5L451.8 1197.5 M435.6 1200.6L429.8 1212.3 M440.8 1200.6L446.6 1212.3" stroke="#1a1a1a" stroke-width="3.3" fill="none"/>
<rect x="432.9" y="1197.5" width="10.6" height="6.2" fill="#000"/>
<path d="M483.6 1444.3L483.6 1461.5 M470.0 1456.9L497.2 1456.9 M481.0 1460.0L475.2 1471.7 M486.2 1460.0L492.0 1471.7" stroke="#1a1a1a" stroke-width="3.3" fill="none"/>
<rect x="478.3" y="1456.9" width="10.6" height="6.2" fill="#000"/>
<path d="M212.0 1543.5L212.0 1560.7 M198.4 1556.1L225.6 1556.1 M209.4 1559.2L203.6 1570.9 M214.6 1559.2L220.4 1570.9" stroke="#1a1a1a" stroke-width="3.3" fill="none"/>
<rect x="206.7" y="1556.1" width="10.6" height="6.2" fill="#000"/>
<path d="M257.3 1543.5L257.3 1560.7 M243.7 1556.1L270.9 1556.1 M254.7 1559.2L248.9 1570.9 M259.9 1559.2L265.7 1570.9" stroke="#1a1a1a" stroke-width="3.3" fill="none"/>
<rect x="252.0" y="1556.1" width="10.6" height="6.2" fill="#000"/>
<path d="M302.2 1546.1L302.2 1563.3 M288.6 1558.7L315.8 1558.7 M299.6 1561.8L293.8 1573.5 M304.8 1561.8L310.6 1573.5" stroke="#1a1a1a" stroke-width="3.3" fill="none"/>
<rect x="296.9" y="1558.7" width="10.6" height="6.2" fill="#000"/>
<path d="M347.8 1529.8L347.8 1547.0 M334.2 1542.4L361.4 1542.4 M345.2 1545.5L339.4 1557.2 M350.4 1545.5L356.2 1557.2" stroke="#1a1a1a" stroke-width="3.3" fill="none"/>
<rect x="342.5" y="1542.4" width="10.6" height="6.2" fill="#000"/>
<path d="M392.6 1552.9L392.6 1570.1 M379.0 1565.5L406.2 1565.5 M390.0 1568.6L384.2 1580.3 M395.2 1568.6L401.0 1580.3" stroke="#1a1a1a" stroke-width="3.3" fill="none"/>
<rect x="387.3" y="1565.5" width="10.6" height="6.2" fill="#000"/>
<path d="M438.2 1552.9L438.2 1570.1 M424.6 1565.5L451.8 1565.5 M435.6 1568.6L429.8 1580.3 M440.8 1568.6L446.6 1580.3" stroke="#1a1a1a" stroke-width="3.3" fill="none"/>
<rect x="432.9" y="1565.5" width="10.6" height="6.2" fill="#000"/>
<path d="M528.9 1485.0L528.9 1502.2 M515.3 1497.6L542.5 1497.6 M526.3 1500.7L520.5 1512.4 M531.5 1500.7L537.3 1512.4" stroke="#1a1a1a" stroke-width="3.3" fill="none"/>
<rect x="523.6" y="1497.6" width="10.6" height="6.2" fill="#000"/>
<path d="M800.0 1478.2L800.0 1495.4 M786.4 1490.8L813.6 1490.8 M797.4 1493.9L791.6 1505.6 M802.6 1493.9L808.4 1505.6" stroke="#1a1a1a" stroke-width="3.3" fill="none"/>
<rect x="794.7" y="1490.8" width="10.6" height="6.2" fill="#000"/>
<path d="M574.2 1543.4L574.2 1560.6 M560.6 1556.0L587.8 1556.0 M571.6 1559.1L565.8 1570.8 M576.8 1559.1L582.6 1570.8" stroke="#1a1a1a" stroke-width="3.3" fill="none"/>
<rect x="568.9" y="1556.0" width="10.6" height="6.2" fill="#000"/>
<path d="M619.1 1546.7L619.1 1563.9 M605.5 1559.3L632.7 1559.3 M616.5 1562.4L610.7 1574.1 M621.7 1562.4L627.5 1574.1" stroke="#1a1a1a" stroke-width="3.3" fill="none"/>
<rect x="613.8" y="1559.3" width="10.6" height="6.2" fill="#000"/>
<circle cx="1203.9" cy="790.8" r="12.8" fill="none" stroke="#222" stroke-width="4.0"/>
<circle cx="1294.5" cy="796.2" r="12.8" fill="none" stroke="#222" stroke-width="4.0"/>
<circle cx="1339.3" cy="788.1" r="12.8" fill="none" stroke="#222" stroke-width="4.0"/>
<circle cx="1068.3" cy="993.6" r="12.8" fill="none" stroke="#222" stroke-width="4.0"/>
<circle cx="1113.5" cy="1091.6" r="12.8" fill="none" stroke="#222" stroke-width="4.0"/>
<circle cx="1475.2" cy="937.6" r="12.8" fill="none" stroke="#222" stroke-width="4.0"/>
<circle cx="1475.2" cy="1008.3" r="12.8" fill="none" stroke="#222" stroke-width="4.0"/>
<circle cx="1565.3" cy="1030.0" r="12.8" fill="none" stroke="#222" stroke-width="4.0"/>
<path d="M1294.5 1032.2L1294.5 1049.4 M1280.9 1044.8L1308.1 1044.8 M1291.9 1047.9L1286.1 1059.6 M1297.1 1047.9L1302.9 1059.6" stroke="#1a1a1a" stroke-width="3.3" fill="none"/>
<rect x="1289.2" y="1044.8" width="10.6" height="6.2" fill="#000"/>
<text x="320.7" y="925.7" class="n" textLength="22.31" lengthAdjust="spacingAndGlyphs">9</text>
<text x="312.4" y="993.8" class="n" textLength="44.62" lengthAdjust="spacingAndGlyphs">13</text>
<text x="450.8" y="851.1" class="n" textLength="44.62" lengthAdjust="spacingAndGlyphs">13</text>
<text x="455.9" y="955.7" class="n" textLength="22.31" lengthAdjust="spacingAndGlyphs">8</text>
<text x="402.9" y="1023.6" class="n" textLength="22.31" lengthAdjust="spacingAndGlyphs">8</text>
<text x="492.9" y="1091.5" class="n" textLength="22.31" lengthAdjust="spacingAndGlyphs">1</text>
<text x="425.0" y="1053.4" class="n" textLength="22.31" lengthAdjust="spacingAndGlyphs">1</text>
<text x="321.8" y="1057.5" class="n" textLength="22.31" lengthAdjust="spacingAndGlyphs">1</text>
<text x="351.3" y="1087.4" class="n" textLength="22.31" lengthAdjust="spacingAndGlyphs">8</text>
<text x="380.1" y="1072.4" class="n" textLength="22.31" lengthAdjust="spacingAndGlyphs">1</text>
<text x="241.1" y="1110.5" class="n" textLength="44.62" lengthAdjust="spacingAndGlyphs">14</text>
<text x="219.6" y="1147.3" class="n" textLength="22.31" lengthAdjust="spacingAndGlyphs">8</text>
<text x="363.9" y="1155.7" class="n" textLength="44.62" lengthAdjust="spacingAndGlyphs">14</text>
<text x="407.3" y="1151.6" class="n" textLength="44.62" lengthAdjust="spacingAndGlyphs">14</text>
<text x="490.1" y="1151.4" class="n" textLength="22.31" lengthAdjust="spacingAndGlyphs">1</text>
<text x="150.7" y="1211.4" class="n" textLength="44.62" lengthAdjust="spacingAndGlyphs">14</text>
<text x="271.5" y="1222.8" class="n" textLength="44.62" lengthAdjust="spacingAndGlyphs">14</text>
<text x="357.1" y="1249.4" class="n" textLength="22.31" lengthAdjust="spacingAndGlyphs">1</text>
<text x="448.1" y="1253.4" class="n" textLength="44.62" lengthAdjust="spacingAndGlyphs">14</text>
<text x="286.9" y="1275.2" class="n" textLength="22.31" lengthAdjust="spacingAndGlyphs">8</text>
<text x="222.8" y="1320.0" class="n" textLength="22.31" lengthAdjust="spacingAndGlyphs">8</text>
<text x="274.3" y="1377.0" class="n" textLength="22.31" lengthAdjust="spacingAndGlyphs">1</text>
<text x="222.0" y="1534.5" class="n" textLength="89.23" lengthAdjust="spacingAndGlyphs">1010</text>
<text x="357.7" y="1523.2" class="n" textLength="44.62" lengthAdjust="spacingAndGlyphs">10</text>
<text x="402.2" y="1545.8" class="n" textLength="89.23" lengthAdjust="spacingAndGlyphs">1010</text>
<text x="312.3" y="1610.4" class="n" textLength="44.62" lengthAdjust="spacingAndGlyphs">10</text>
<text x="492.9" y="1436.8" class="n" textLength="44.62" lengthAdjust="spacingAndGlyphs">10</text>
<text x="636.0" y="906.8" class="n" textLength="44.62" lengthAdjust="spacingAndGlyphs">14</text>
<text x="629.2" y="966.5" class="n" textLength="44.62" lengthAdjust="spacingAndGlyphs">13</text>
<text x="540.9" y="955.7" class="n" textLength="44.62" lengthAdjust="spacingAndGlyphs">13</text>
<text x="534.1" y="1030.3" class="n" textLength="22.31" lengthAdjust="spacingAndGlyphs">1</text>
<text x="587.1" y="1045.2" class="n" textLength="44.62" lengthAdjust="spacingAndGlyphs">14</text>
<text x="637.0" y="1106.4" class="n" textLength="22.31" lengthAdjust="spacingAndGlyphs">8</text>
<text x="629.2" y="1158.0" class="n" textLength="22.31" lengthAdjust="spacingAndGlyphs">1</text>
<text x="542.3" y="1128.1" class="n" textLength="44.62" lengthAdjust="spacingAndGlyphs">14</text>
<text x="817.6" y="1027.1" class="n" textLength="22.31" lengthAdjust="spacingAndGlyphs">8</text>
<text x="816.6" y="1109.7" class="n" textLength="22.31" lengthAdjust="spacingAndGlyphs">1</text>
<text x="546.0" y="1215.4" class="n" textLength="22.31" lengthAdjust="spacingAndGlyphs">8</text>
<text x="681.3" y="1248.8" class="n" textLength="44.62" lengthAdjust="spacingAndGlyphs">14</text>
<text x="771.8" y="1211.4" class="n" textLength="22.31" lengthAdjust="spacingAndGlyphs">1</text>
<text x="816.6" y="1222.2" class="n" textLength="44.62" lengthAdjust="spacingAndGlyphs">14</text>
<text x="726.4" y="1332.2" class="n" textLength="22.31" lengthAdjust="spacingAndGlyphs">1</text>
<text x="538.2" y="1478.0" class="n" textLength="44.62" lengthAdjust="spacingAndGlyphs">10</text>
<text x="718.8" y="1542.2" class="n" textLength="44.62" lengthAdjust="spacingAndGlyphs">10</text>
<text x="771.8" y="1451.7" class="n" textLength="44.62" lengthAdjust="spacingAndGlyphs">10</text>
<text x="816.6" y="1470.7" class="n" textLength="44.62" lengthAdjust="spacingAndGlyphs">10</text>
<text x="583.0" y="1534.5" class="n" textLength="44.62" lengthAdjust="spacingAndGlyphs">10</text>
<text x="628.0" y="1613.7" class="n" textLength="44.62" lengthAdjust="spacingAndGlyphs">10</text>
<text x="673.5" y="1610.2" class="n" textLength="44.62" lengthAdjust="spacingAndGlyphs">10</text>
<text x="1218.7" y="764.2" class="n" textLength="44.62" lengthAdjust="spacingAndGlyphs">36</text>
<text x="1305.6" y="850.5" class="n" textLength="44.62" lengthAdjust="spacingAndGlyphs">36</text>
<text x="1354.5" y="764.2" class="n" textLength="44.62" lengthAdjust="spacingAndGlyphs">39</text>
<text x="1084.3" y="967.8" class="n" textLength="44.62" lengthAdjust="spacingAndGlyphs">32</text>
<text x="1129.1" y="1064.7" class="n" textLength="44.62" lengthAdjust="spacingAndGlyphs">35</text>
<text x="1305.8" y="1023.8" class="n" textLength="44.62" lengthAdjust="spacingAndGlyphs">39</text>
<text x="1490.3" y="910.7" class="n" textLength="44.62" lengthAdjust="spacingAndGlyphs">36</text>
<text x="1490.3" y="982.3" class="n" textLength="44.62" lengthAdjust="spacingAndGlyphs">39</text>
<text x="1580.4" y="1004.9" class="n" textLength="44.62" lengthAdjust="spacingAndGlyphs">39</text>
<rect x="1766.2" y="31.6" width="3.8" height="37.0" fill="#808080"/>
<rect x="1770.0" y="28.3" width="37.2" height="40.3" fill="#000"/>
<rect x="1770.0" y="28.3" width="34.1" height="3.3" fill="#5a5a5a"/>
<rect x="1770.0" y="31.6" width="34.1" height="33.5" fill="#122244"/>
<rect x="1773.8" y="35.2" width="30.3" height="29.9" fill="#2d55aa"/>
<text x="1816.3" y="68.6" class="t" textLength="177.82" lengthAdjust="spacingAndGlyphs">Ch1_valid</text>
<rect x="1766.2" y="82.5" width="3.8" height="37.0" fill="#808080"/>
<rect x="1770.0" y="79.2" width="37.2" height="40.3" fill="#000"/>
<rect x="1770.0" y="79.2" width="34.1" height="3.3" fill="#5a5a5a"/>
<rect x="1770.0" y="82.5" width="34.1" height="33.5" fill="#004817"/>
<rect x="1773.8" y="86.1" width="30.3" height="29.9" fill="#00b43a"/>
<text x="1816.3" y="117.9" class="t" textLength="177.82" lengthAdjust="spacingAndGlyphs">Ch2_valid</text>
<rect x="1766.2" y="132.9" width="3.8" height="37.0" fill="#808080"/>
<rect x="1770.0" y="129.6" width="37.2" height="40.3" fill="#000"/>
<rect x="1770.0" y="129.6" width="34.1" height="3.3" fill="#5a5a5a"/>
<rect x="1770.0" y="132.9" width="34.1" height="33.5" fill="#55523c"/>
<rect x="1773.8" y="136.5" width="30.3" height="29.9" fill="#d5cf98"/>
<text x="1816.3" y="166.6" class="t" textLength="177.82" lengthAdjust="spacingAndGlyphs">Ch3_valid</text>
<rect x="1766.2" y="182.5" width="3.8" height="37.0" fill="#808080"/>
<rect x="1770.0" y="179.2" width="37.2" height="40.3" fill="#000"/>
<rect x="1770.0" y="179.2" width="34.1" height="3.3" fill="#5a5a5a"/>
<rect x="1770.0" y="182.5" width="34.1" height="33.5" fill="#380e33"/>
<rect x="1773.8" y="186.1" width="30.3" height="29.9" fill="#8e2380"/>
<text x="1816.3" y="218.9" class="t" textLength="177.82" lengthAdjust="spacingAndGlyphs">Ch4_valid</text>
<rect x="1766.2" y="234.0" width="3.8" height="37.0" fill="#808080"/>
<rect x="1770.0" y="230.7" width="37.2" height="40.3" fill="#000"/>
<rect x="1770.0" y="230.7" width="34.1" height="3.3" fill="#5a5a5a"/>
<rect x="1770.0" y="234.0" width="34.1" height="33.5" fill="#646126"/>
<rect x="1773.8" y="237.6" width="30.3" height="29.9" fill="#fbf35f"/>
<text x="1816.2" y="267.8" class="t" textLength="173.85" lengthAdjust="spacingAndGlyphs">ch5_valid</text>
<rect x="1766.2" y="283.9" width="3.8" height="37.0" fill="#808080"/>
<rect x="1770.0" y="280.6" width="37.2" height="40.3" fill="#000"/>
<rect x="1770.0" y="280.6" width="34.1" height="3.3" fill="#5a5a5a"/>
<rect x="1770.0" y="283.9" width="34.1" height="33.5" fill="#661114"/>
<rect x="1773.8" y="287.5" width="30.3" height="29.9" fill="#ff2b33"/>
<text x="1816.2" y="320.1" class="t" textLength="173.85" lengthAdjust="spacingAndGlyphs">ch6_valid</text>
<rect x="1766.2" y="335.5" width="3.8" height="37.0" fill="#808080"/>
<rect x="1770.0" y="332.2" width="37.2" height="40.3" fill="#000"/>
<rect x="1770.0" y="332.2" width="34.1" height="3.3" fill="#5a5a5a"/>
<rect x="1770.0" y="335.5" width="34.1" height="33.5" fill="#004e4e"/>
<rect x="1773.8" y="339.1" width="30.3" height="29.9" fill="#00c4c4"/>
<text x="1816.2" y="369.6" class="t" textLength="173.85" lengthAdjust="spacingAndGlyphs">ch7_valid</text>
<rect x="1766.2" y="384.7" width="3.8" height="37.0" fill="#808080"/>
<rect x="1770.0" y="381.4" width="37.2" height="40.3" fill="#000"/>
<rect x="1770.0" y="381.4" width="34.1" height="3.3" fill="#5a5a5a"/>
<rect x="1770.0" y="384.7" width="34.1" height="33.5" fill="#515151"/>
<rect x="1773.8" y="388.3" width="30.3" height="29.9" fill="#cccccc"/>
<text x="1816.2" y="419.1" class="t" textLength="173.85" lengthAdjust="spacingAndGlyphs">ch8_valid</text>
<rect x="1766.2" y="435.5" width="3.8" height="37.0" fill="#808080"/>
<rect x="1770.0" y="432.2" width="37.2" height="40.3" fill="#000"/>
<rect x="1770.0" y="432.2" width="34.1" height="3.3" fill="#5a5a5a"/>
<rect x="1770.0" y="435.5" width="34.1" height="33.5" fill="#254457"/>
<rect x="1773.8" y="439.1" width="30.3" height="29.9" fill="#5daadb"/>
<text x="1816.2" y="470.9" class="t" textLength="173.85" lengthAdjust="spacingAndGlyphs">ch9_valid</text>
<rect x="1766.2" y="485.8" width="3.8" height="37.0" fill="#808080"/>
<rect x="1770.0" y="482.5" width="37.2" height="40.3" fill="#000"/>
<rect x="1770.0" y="482.5" width="34.1" height="3.3" fill="#5a5a5a"/>
<rect x="1770.0" y="485.8" width="34.1" height="33.5" fill="#01200c"/>
<rect x="1773.8" y="489.4" width="30.3" height="29.9" fill="#04501f"/>
<text x="1816.2" y="520.2" class="t" textLength="197.11" lengthAdjust="spacingAndGlyphs">ch10_valid</text>
<rect x="1766.2" y="535.5" width="3.8" height="37.0" fill="#808080"/>
<rect x="1770.0" y="532.2" width="37.2" height="40.3" fill="#000"/>
<rect x="1770.0" y="532.2" width="34.1" height="3.3" fill="#5a5a5a"/>
<rect x="1770.0" y="535.5" width="34.1" height="33.5" fill="#663c00"/>
<rect x="1773.8" y="539.1" width="30.3" height="29.9" fill="#ff9700"/>
<text x="1816.2" y="572.4" class="t" textLength="197.22" lengthAdjust="spacingAndGlyphs">ch11_valid</text>
<rect x="1766.2" y="586.0" width="3.8" height="37.0" fill="#808080"/>
<rect x="1770.0" y="582.7" width="37.2" height="40.3" fill="#000"/>
<rect x="1770.0" y="582.7" width="34.1" height="3.3" fill="#5a5a5a"/>
<rect x="1770.0" y="586.0" width="34.1" height="33.5" fill="#5c4a60"/>
<rect x="1773.8" y="589.6" width="30.3" height="29.9" fill="#e8bbf0"/>
<text x="1816.2" y="621.6" class="t" textLength="197.11" lengthAdjust="spacingAndGlyphs">ch12_valid</text>
<rect x="1766.2" y="636.4" width="3.8" height="37.0" fill="#808080"/>
<rect x="1770.0" y="633.1" width="37.2" height="40.3" fill="#000"/>
<rect x="1770.0" y="633.1" width="34.1" height="3.3" fill="#5a5a5a"/>
<rect x="1770.0" y="636.4" width="34.1" height="33.5" fill="#002430"/>
<rect x="1773.8" y="640.0" width="30.3" height="29.9" fill="#005c79"/>
<text x="1816.2" y="670.6" class="t" textLength="197.11" lengthAdjust="spacingAndGlyphs">ch13_valid</text>
<rect x="1766.2" y="686.5" width="3.8" height="37.0" fill="#808080"/>
<rect x="1770.0" y="683.2" width="37.2" height="40.3" fill="#000"/>
<rect x="1770.0" y="683.2" width="34.1" height="3.3" fill="#5a5a5a"/>
<rect x="1770.0" y="686.5" width="34.1" height="33.5" fill="#486651"/>
<rect x="1773.8" y="690.1" width="30.3" height="29.9" fill="#b4ffcc"/>
<text x="1816.2" y="722.7" class="t" textLength="197.11" lengthAdjust="spacingAndGlyphs">ch14_valid</text>
</svg>
</body></html>
